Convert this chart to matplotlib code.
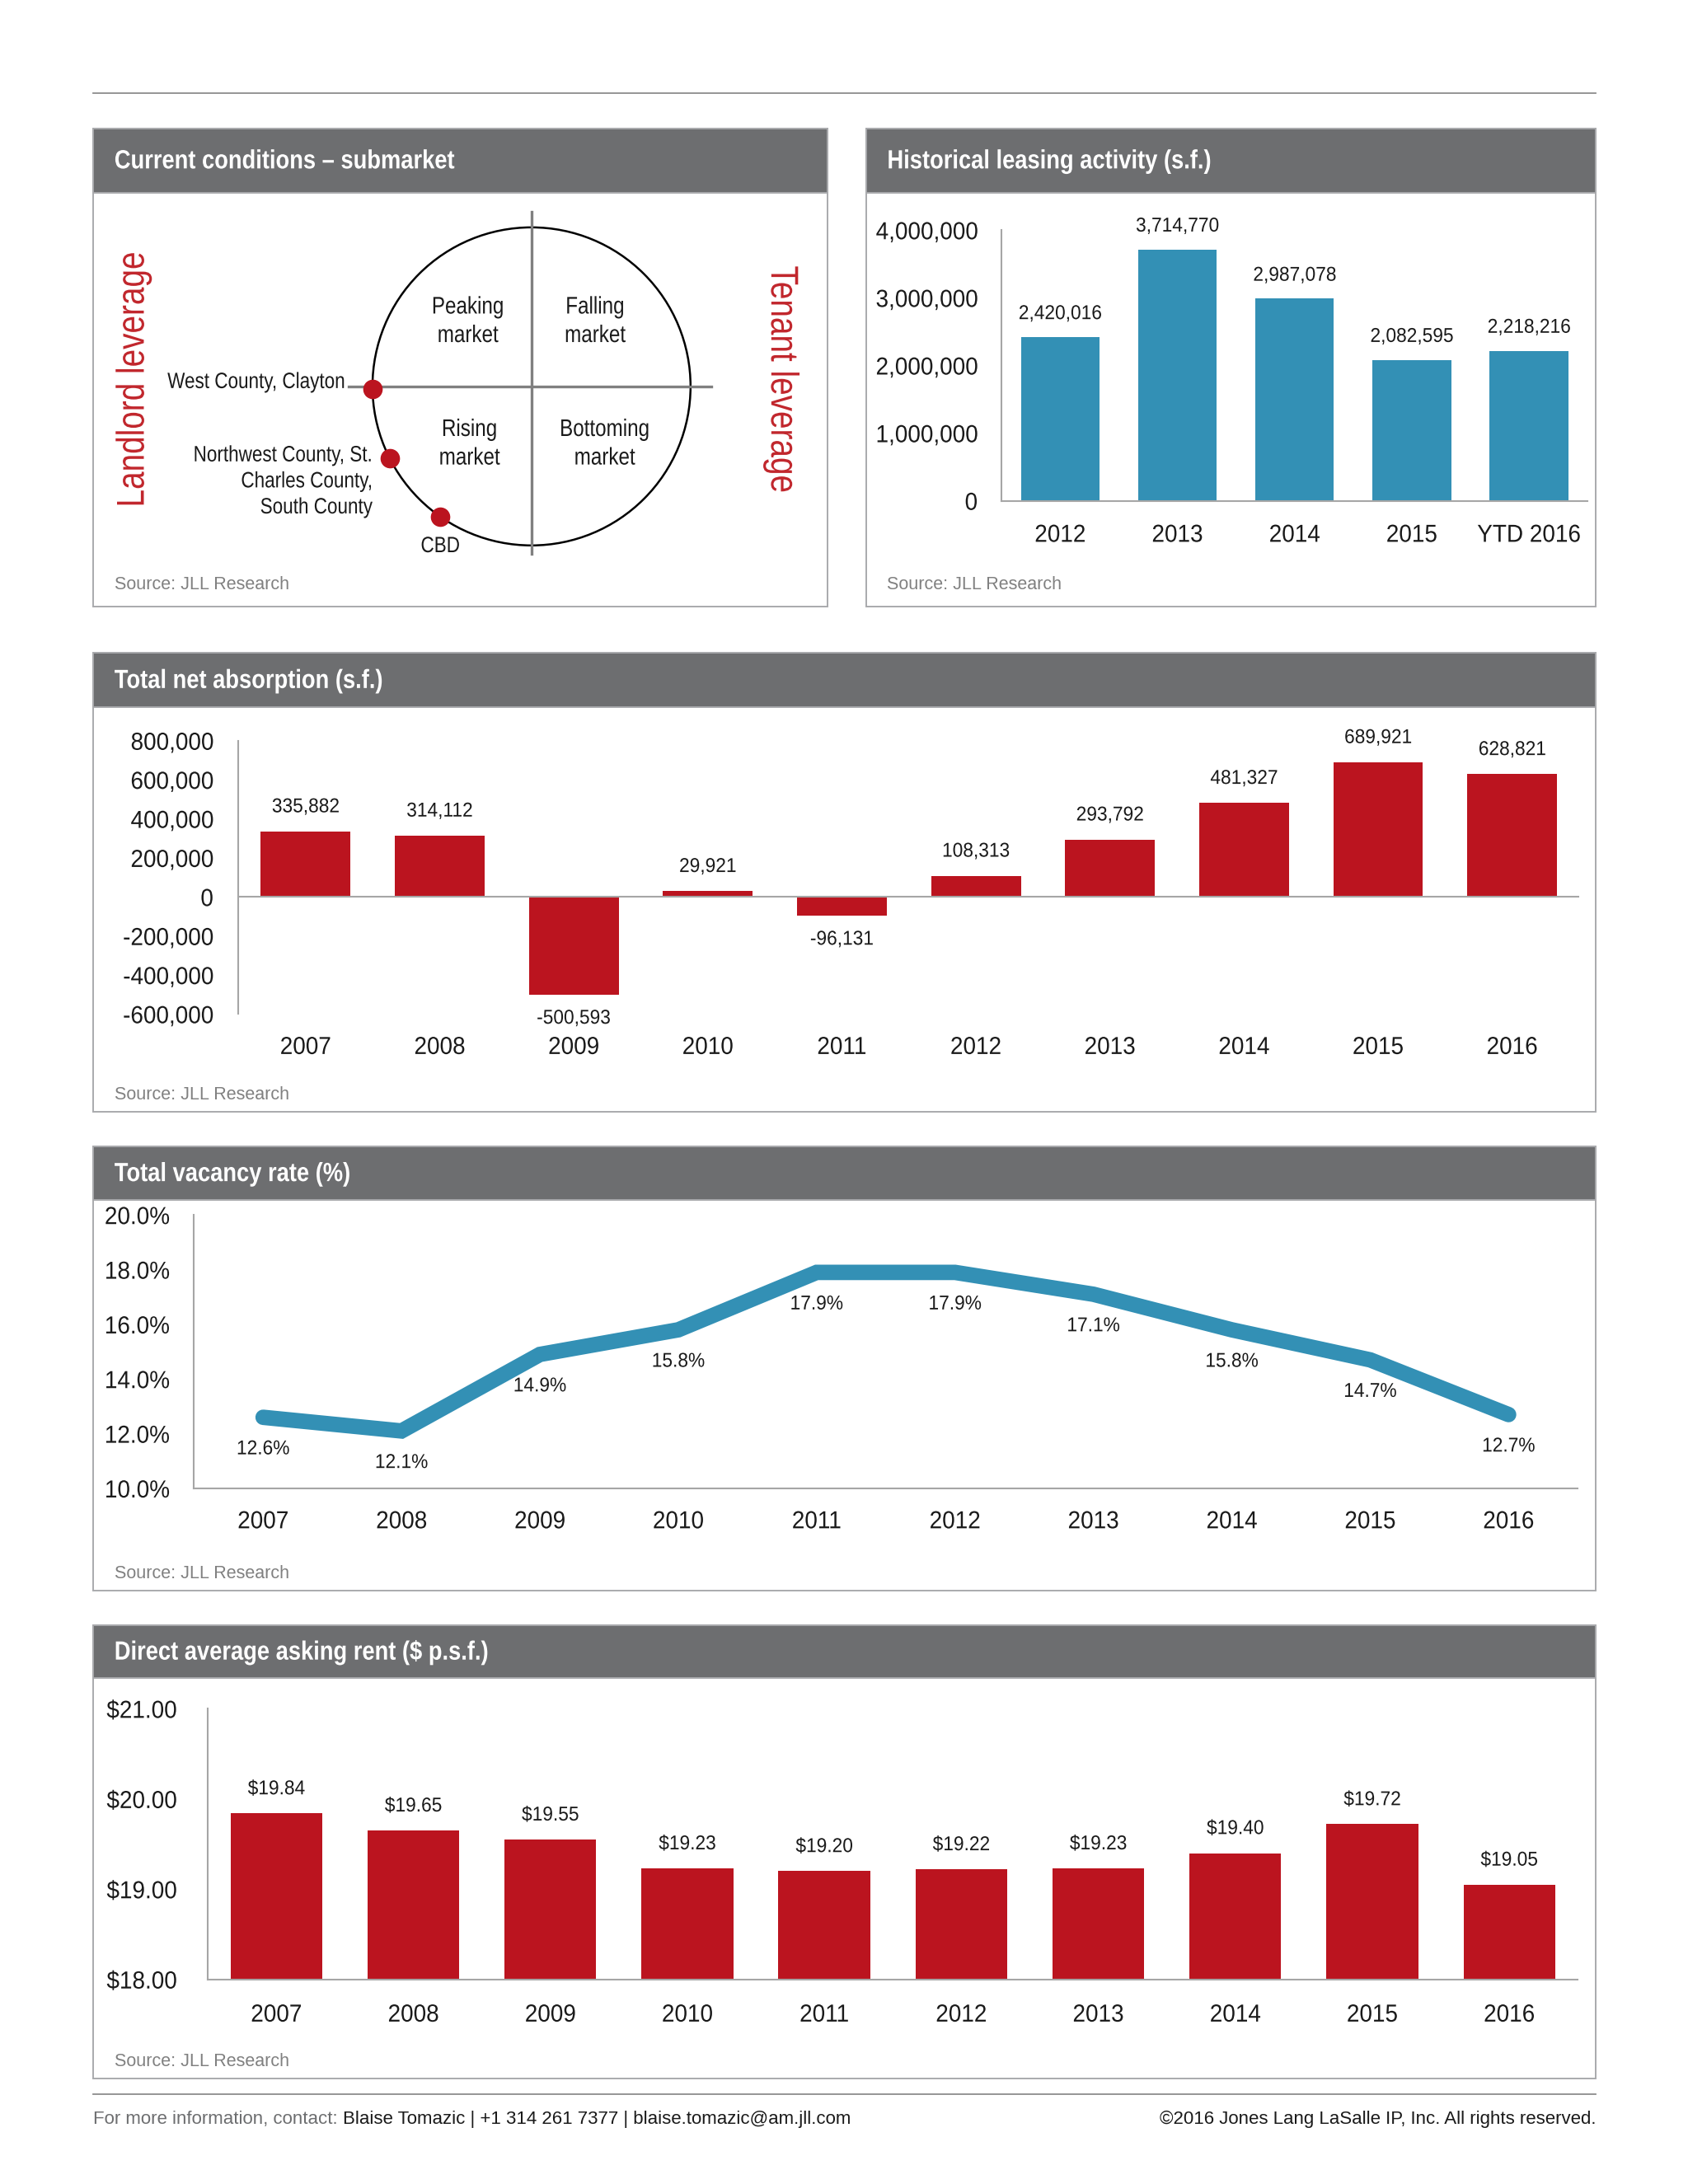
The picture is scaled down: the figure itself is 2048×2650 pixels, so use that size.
import matplotlib
matplotlib.use('Agg')
import matplotlib.pyplot as plt
from matplotlib import font_manager
from matplotlib.patches import Rectangle, Circle
from matplotlib.patheffects import AbstractPathEffect
from matplotlib.ticker import FuncFormatter, MultipleLocator
from matplotlib.transforms import Affine2D
import numpy as np

# --- data -------------------------------------------------------------
lease_years = ['2012', '2013', '2014', '2015', 'YTD 2016']
lease_sf = [2420016, 3714770, 2987078, 2082595, 2218216]

years = ['2007', '2008', '2009', '2010', '2011',
         '2012', '2013', '2014', '2015', '2016']
absorption = [335882, 314112, -500593, 29921, -96131,
              108313, 293792, 481327, 689921, 628821]
vacancy = [12.6, 12.1, 14.9, 15.8, 17.9, 17.9, 17.1, 15.8, 14.7, 12.7]
rent = [19.84, 19.65, 19.55, 19.23, 19.20, 19.22, 19.23, 19.40, 19.72, 19.05]

quadrants = ['Peaking\nmarket', 'Falling\nmarket', 'Rising\nmarket', 'Bottoming\nmarket']
submarkets = ['West County, Clayton',
              'Northwest County, St.\nCharles County,\nSouth County',
              'CBD']
clock_deg = [181, 207, 235]   # position on the market clock

# --- style ------------------------------------------------------------
names = {f.name for f in font_manager.fontManager.ttflist}
FONT = 'Liberation Sans Narrow' if 'Liberation Sans Narrow' in names else 'Liberation Sans'
plt.rcParams['font.family'] = [FONT, 'DejaVu Sans']
NARROW = FONT == 'Liberation Sans Narrow'

RED = '#bb141f'
BLUE = '#3390b5'
HEAD = '#6d6e70'
BORDER = '#a9aaad'
AXIS = '#a6a6a6'
TEXT = '#1a1a1a'
SRC = '#808080'

W, H = 1210.0, 2650 * 1210 / 2048.0   # layout units (reference preview px)


class Squeeze(AbstractPathEffect):
    """Draw text horizontally condensed, keeping its alignment."""

    def __init__(self, sx, k):
        super().__init__()
        self.sx, self.k = sx, k

    def draw_path(self, renderer, gc, tpath, affine, rgbFace=None):
        v = tpath.vertices
        L = np.nanmax(v[:, 0]) if len(v) else 0.0
        pre = Affine2D().scale(self.sx, 1).translate((1 - self.sx) * L * self.k, 0)
        renderer.draw_path(gc, tpath, pre + affine, rgbFace)


def squeeze(t, sx):
    if NARROW:
        sx = min(1.0, sx / 0.82)
    if sx < 0.999:
        k = {'left': 0.0, 'center': 0.5, 'right': 1.0}[t.get_ha()]
        t.set_path_effects([Squeeze(sx, k)])
    return t


def rect(x0, y0, x1, y1):
    return [x0 / W, 1 - y1 / H, (x1 - x0) / W, (y1 - y0) / H]


fig = plt.figure(figsize=(20.48, 26.5), dpi=100)
fig.patch.set_facecolor('white')

bg = fig.add_axes([0, 0, 1, 1], zorder=0)
bg.set_xlim(0, W)
bg.set_ylim(H, 0)
bg.axis('off')

# page rules
bg.plot([67, 1144], [67, 67], color='#8c8c8c', lw=1.3)
bg.plot([67, 1144], [1501, 1501], color='#8c8c8c', lw=1.3)

panels = [
    # x0, y0, x1, y1, header bottom, title, source y
    (67, 92, 593, 435, 138, 'Current conditions \u2013 submarket', 419),
    (621, 92, 1144, 435, 138, 'Historical leasing activity (s.f.)', 419),
    (67, 468, 1144, 797, 507, 'Total net absorption (s.f.)', 785),
    (67, 822, 1144, 1140, 860, 'Total vacancy rate (%)', 1128),
    (67, 1165, 1144, 1490, 1203, 'Direct average asking rent ($ p.s.f.)', 1478),
]
for x0, y0, x1, y1, hb, title, sy in panels:
    bg.add_patch(Rectangle((x0, y0), x1 - x0, y1 - y0, facecolor='white',
                           edgecolor=BORDER, lw=1.4))
    bg.add_patch(Rectangle((x0, y0), x1 - x0, hb - y0, facecolor=HEAD,
                           edgecolor=BORDER, lw=1.4))
    t = bg.text(x0 + 15, (y0 + hb) / 2 + 1, title, color='white', fontsize=23,
                fontweight='bold', ha='left', va='center')
    squeeze(t, 0.855)
    bg.text(x0 + 15, sy, 'Source: JLL Research', color=SRC, fontsize=15.5,
            ha='left', va='center')

# footer
t1 = bg.text(67, 1519, 'For more information, contact: ', color='#6d6e70',
             fontsize=16, ha='left', va='center')
bg.annotate('Blaise Tomazic | +1 314 261 7377 | blaise.tomazic@am.jll.com',
            xy=(1, 0.5), xycoords=t1, ha='left', va='center',
            color=TEXT, fontsize=16)
bg.text(1144, 1519, '\u00a92016 Jones Lang LaSalle IP, Inc. All rights reserved.',
        color=TEXT, fontsize=16, ha='right', va='center')

# --- market clock -----------------------------------------------------
R = 114.0
cx, cy = 381.0, 277.0
dg = fig.add_axes(rect(67, 138, 593, 435), zorder=1)
dg.set_xlim((67 - cx) / R, (593 - cx) / R)
dg.set_ylim((cy - 435) / R, (cy - 138) / R)
dg.axis('off')
dg.add_patch(Circle((0, 0), 1, facecolor='none', edgecolor='black', lw=1.8))
dg.plot([0, 0], [-1.053, 1.096], color='#808080', lw=2.4)
dg.plot([-1.149, 1.132], [0, 0], color='#808080', lw=2.4)

quad_xy = [(-0.40, 0.41), (0.40, 0.41), (-0.39, -0.36), (0.46, -0.36)]
for q, (qx, qy) in zip(quadrants, quad_xy):
    t = dg.text(qx, qy, q, ha='center', va='center', fontsize=21, color=TEXT,
                linespacing=1.3)
    squeeze(t, 0.83)

label_style = [((-24, 6), 'right', 'center'),
               ((-15, 12), 'right', 'top'),
               ((0, -26), 'center', 'center')]
ang = np.radians(clock_deg)
for name, a, (off, ha, va) in zip(submarkets, ang, label_style):
    px, py = np.cos(a), np.sin(a)
    dg.plot(px, py, 'o', color=RED, ms=16, zorder=5)
    t = dg.annotate(name, (px, py), xytext=off, textcoords='offset points',
                    ha=ha, va=va, fontsize=19.4, color=TEXT, linespacing=1.28)
    squeeze(t, 0.835)

t = bg.text(96, 272, 'Landlord leverage', rotation=90, color='#c1272d',
            fontsize=34, ha='center', va='center')
squeeze(t, 0.82)
t = bg.text(560, 272, 'Tenant leverage', rotation=270, color='#c1272d',
            fontsize=34, ha='center', va='center')
squeeze(t, 0.82)


# --- chart helpers ----------------------------------------------------
def style(ax, ypad, xpad, bottom=True):
    for s in ['top', 'right']:
        ax.spines[s].set_visible(False)
    ax.spines['left'].set_color(AXIS)
    ax.spines['left'].set_linewidth(1.5)
    ax.spines['bottom'].set_color(AXIS)
    ax.spines['bottom'].set_linewidth(1.5)
    ax.spines['bottom'].set_visible(bottom)
    ax.tick_params(length=0, labelsize=21.5, colors=TEXT)
    ax.tick_params(axis='y', pad=ypad)
    ax.tick_params(axis='x', pad=xpad)
    ax.set_facecolor('none')
    for lab in ax.get_xticklabels() + ax.get_yticklabels():
        squeeze(lab, 0.935)


def value_labels(ax, xs, vals, fmt, dy):
    for xi, v in zip(xs, vals):
        off = dy if v >= 0 else -dy
        t = ax.annotate(fmt(v), (xi, v), xytext=(0, off), textcoords='offset points',
                        ha='center', va='center', fontsize=17.5, color=TEXT)
        squeeze(t, 0.935)


comma = FuncFormatter(lambda v, p: f'{v:,.0f}')

# historical leasing
ax = fig.add_axes(rect(718, 165, 1138, 359), zorder=1)
x = np.arange(len(lease_years))
ax.bar(x, lease_sf, width=0.67, color=BLUE)
ax.set_xlim(-0.5, 4.5)
ax.set_ylim(0, 4000000)
ax.yaxis.set_major_locator(MultipleLocator(1000000))
ax.yaxis.set_major_formatter(comma)
ax.set_xticks(x, lease_years)
style(ax, 21, 20)
value_labels(ax, x, lease_sf, lambda v: f'{v:,.0f}', 20)

# net absorption
ax = fig.add_axes(rect(171, 531, 1132, 727), zorder=1)
x = np.arange(len(years))
ax.bar(x, absorption, width=0.67, color=RED)
ax.axhline(0, color=AXIS, lw=1.5)
ax.set_xlim(-0.5, 9.5)
ax.set_ylim(-600000, 800000)
ax.yaxis.set_major_locator(MultipleLocator(200000))
ax.yaxis.set_major_formatter(comma)
ax.set_xticks(x, years)
style(ax, 22, 19, bottom=False)
value_labels(ax, x, absorption, lambda v: f'{v:,.0f}', 21)

# vacancy
ax = fig.add_axes(rect(139, 871, 1131, 1067), zorder=1)
ax.plot(x, vacancy, color=BLUE, lw=13.5, solid_capstyle='round',
        solid_joinstyle='miter', clip_on=False)
ax.set_xlim(-0.5, 9.5)
ax.set_ylim(10, 20)
ax.yaxis.set_major_locator(MultipleLocator(2))
ax.yaxis.set_major_formatter(FuncFormatter(lambda v, p: f'{v:.1f}%'))
ax.set_xticks(x, years)
style(ax, 21, 19)
value_labels(ax, x, vacancy, lambda v: f'{v:.1f}%', -28)

# asking rent
ax = fig.add_axes(rect(149, 1225, 1131, 1419), zorder=1)
ax.bar(x, rent, width=0.67, color=RED)
ax.set_xlim(-0.5, 9.5)
ax.set_ylim(18, 21)
ax.yaxis.set_major_locator(MultipleLocator(1))
ax.yaxis.set_major_formatter(FuncFormatter(lambda v, p: f'${v:.2f}'))
ax.set_xticks(x, years)
style(ax, 27, 21)
value_labels(ax, x, rent, lambda v: f'${v:.2f}', 21)

fig.savefig('out.png', dpi=100, facecolor='white')
